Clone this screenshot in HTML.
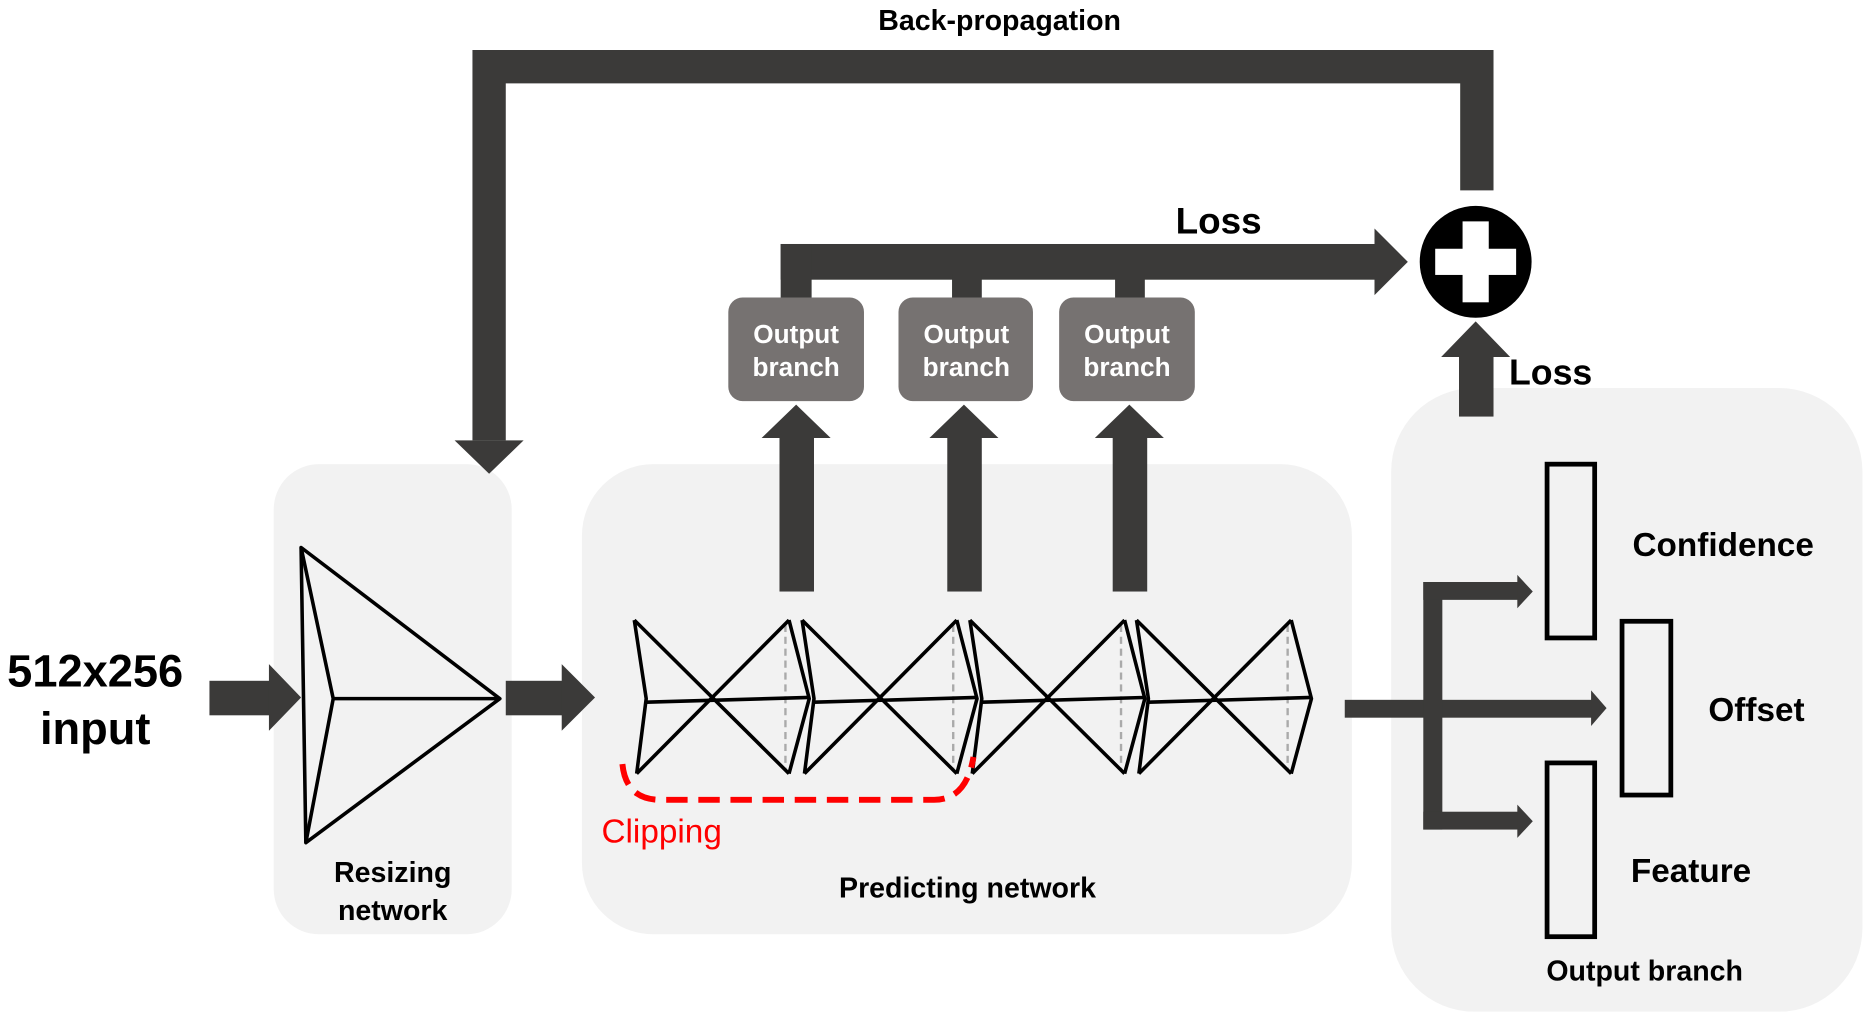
<!DOCTYPE html>
<html><head><style>html,body{margin:0;padding:0;background:#fff;}svg{display:block}</style></head>
<body>
<svg width="1866" height="1020" viewBox="0 0 1568 857" preserveAspectRatio="none" xmlns="http://www.w3.org/2000/svg" font-family="Liberation Sans, sans-serif" font-weight="bold">
<rect width="1568" height="857" fill="#fff"/>
<!-- panels -->
<rect x="230" y="390" width="200" height="395" rx="38" fill="#f2f2f2"/>
<rect x="489" y="390" width="647" height="395" rx="60" fill="#f2f2f2"/>
<rect x="1169" y="326" width="396" height="524" rx="70" fill="#f2f2f2"/>
<!-- back-propagation -->
<text x="840" y="25" font-size="24" text-anchor="middle">Back-propagation</text>
<path d="M397 42 H1255 V160 H1227 V70 H425 V370 H397 Z" fill="#3b3a39"/>
<polygon points="382,370 440,370 411,398" fill="#3b3a39"/>
<!-- plus -->
<circle cx="1240" cy="220" r="47" fill="#000"/>
<rect x="1206" y="209" width="68" height="22" fill="#fff"/>
<rect x="1229" y="186" width="22" height="68" fill="#fff"/>
<!-- loss bar -->
<rect x="656" y="205" width="500" height="30" fill="#3b3a39"/>
<polygon points="1155,192 1183,220 1155,248" fill="#3b3a39"/>
<rect x="656" y="205" width="26" height="45" fill="#3b3a39"/>
<rect x="800" y="230" width="25" height="20" fill="#3b3a39"/>
<rect x="937" y="230" width="25" height="20" fill="#3b3a39"/>
<text x="1024" y="196" font-size="31" text-anchor="middle">Loss</text>
<!-- output branch boxes -->
<g fill="#767271"><rect x="612" y="250" width="114" height="87" rx="12"/><rect x="755" y="250" width="113" height="87" rx="12"/><rect x="890" y="250" width="114" height="87" rx="12"/></g>
<g fill="#fff" font-size="22" text-anchor="middle">
<text x="669" y="288">Output</text><text x="669" y="316">branch</text>
<text x="812" y="288">Output</text><text x="812" y="316">branch</text>
<text x="947" y="288">Output</text><text x="947" y="316">branch</text></g>
<!-- up arrows -->
<g fill="#3b3a39">
<rect x="655" y="366" width="29" height="131"/><polygon points="640,368 698,368 669,340"/>
<rect x="796" y="366" width="29" height="131"/><polygon points="781,368 839,368 810,340"/>
<rect x="935" y="366" width="29" height="131"/><polygon points="920,368 978,368 949,340"/>
<rect x="1226" y="298" width="29" height="52"/><polygon points="1211,300 1269,300 1240,270"/>
</g>
<text x="1303" y="323" font-size="30" text-anchor="middle">Loss</text>
<!-- input -->
<text x="80" y="577" font-size="38" text-anchor="middle">512x256</text>
<text x="80" y="625" font-size="38" text-anchor="middle">input</text>
<g fill="#3b3a39">
<rect x="176" y="572" width="52" height="29"/><polygon points="226,558 253,586 226,614"/>
<rect x="425" y="572" width="50" height="29"/><polygon points="472,558 500,586 472,614"/>
</g>
<!-- resizing triangle -->
<g fill="none" stroke="#000" stroke-width="3" stroke-linejoin="round">
<polygon points="253,460 420,587 257,708"/>
<polyline points="253,460 280,587 257,708"/>
<line x1="280" y1="587" x2="420" y2="587"/>
</g>
<text x="330" y="741" font-size="24" text-anchor="middle">Resizing</text>
<text x="330" y="773" font-size="24" text-anchor="middle">network</text>
<!-- bowties -->
<g id="u" fill="none" stroke="#000" stroke-width="3" stroke-linejoin="round">
<line x1="660" y1="525" x2="660" y2="646" stroke="#aaa" stroke-dasharray="6 4" stroke-width="2"/>
<polyline points="533,521 543,587 535,650"/>
<line x1="533" y1="521" x2="663" y2="650"/>
<line x1="535" y1="650" x2="663" y2="521"/>
<polyline points="663,521 680,587 663,650"/>
<line x1="543" y1="590" x2="680" y2="586"/>
</g>
<use href="#u" x="141"/>
<use href="#u" x="282"/>
<use href="#u" x="422"/>
<path d="M523 642 Q526 672 555 672 H785 Q812 672 818 636" fill="none" stroke="#f00" stroke-width="5" stroke-dasharray="18 9"/>
<text x="556" y="708" font-size="28" font-weight="normal" fill="#f00" text-anchor="middle">Clipping</text>
<text x="813" y="754" font-size="24" text-anchor="middle">Predicting network</text>
<!-- output branch panel -->
<g fill="#3b3a39">
<rect x="1130" y="588" width="210" height="15"/>
<rect x="1196" y="489" width="16" height="208"/>
<rect x="1196" y="489" width="80" height="15"/>
<rect x="1196" y="682" width="80" height="15"/>
<polygon points="1275,483 1288,497 1275,511"/>
<polygon points="1275,676 1288,690 1275,704"/>
<polygon points="1337,580 1350,595 1337,610"/>
</g>
<g fill="none" stroke="#000" stroke-width="4">
<rect x="1300" y="390" width="40" height="146"/>
<rect x="1363" y="522" width="41" height="146"/>
<rect x="1300" y="641" width="40" height="146"/>
</g>
<g font-size="28" text-anchor="middle">
<text x="1448" y="467">Confidence</text>
<text x="1476" y="606">Offset</text>
<text x="1421" y="741">Feature</text>
</g>
<text x="1382" y="824" font-size="24" text-anchor="middle">Output branch</text>
</svg>
</body></html>
